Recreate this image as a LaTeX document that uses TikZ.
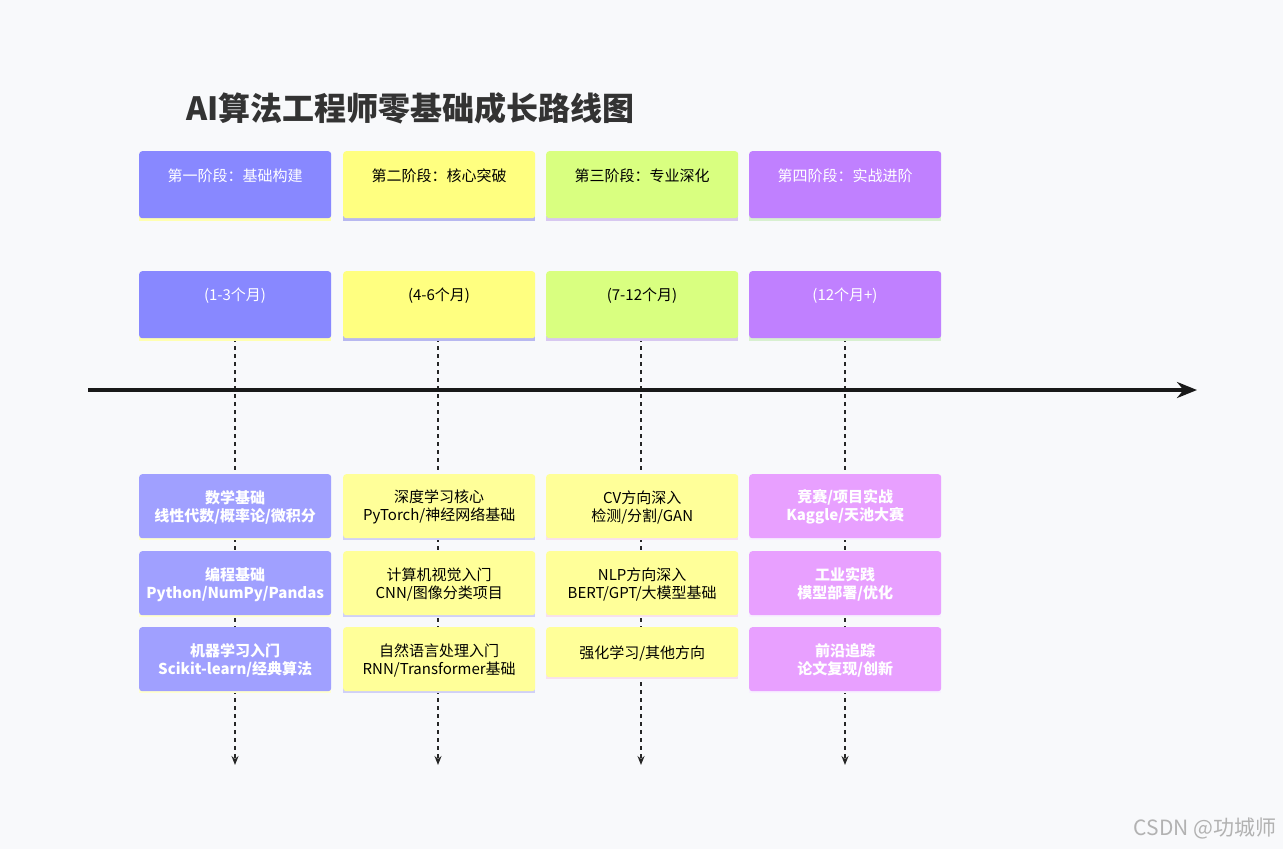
\documentclass[tikz,border=0pt]{standalone}
\usepackage{fontspec}
\setmainfont{Noto Sans CJK SC}
\usetikzlibrary{arrows.meta}
\definecolor{bg}{HTML}{F8F9FB}
\definecolor{cA}{HTML}{8888FF}\definecolor{cB}{HTML}{FFFF80}
\definecolor{cC}{HTML}{D9FF80}\definecolor{cD}{HTML}{C080FF}
\definecolor{iA}{HTML}{A0A0FF}\definecolor{iB}{HTML}{FFFF99}
\definecolor{iC}{HTML}{FFFF99}\definecolor{iD}{HTML}{E8A0FF}
\definecolor{sA}{HTML}{FFFFB0}\definecolor{sB}{HTML}{B8B8F0}
\definecolor{sC}{HTML}{D8C8F0}\definecolor{sD}{HTML}{D8F0D0}
\definecolor{siA}{HTML}{FFFFD0}\definecolor{siB}{HTML}{D0D0F8}
\definecolor{siC}{HTML}{F8E0F0}\definecolor{siD}{HTML}{F8F0FF}
\tikzset{
 hdr/.style={rounded corners=3pt,minimum width=192pt,minimum height=67pt,anchor=north west,inner sep=0pt},
 item/.style={rounded corners=3pt,minimum width=192pt,anchor=north west,inner sep=0pt},
 vline/.style={dashed,line width=1.4pt,dash pattern=on 4pt off 4pt,-{Stealth[length=9pt,width=7pt]},black!85},
 lbl/.style={align=center,font=\fontsize{15}{18}\selectfont},
 lblw/.style={align=center,text=white,font=\bfseries\fontsize{15}{18}\selectfont},
}
\newcommand{\stripe}[4]{\fill[#4] (#1,#2) rectangle ++(192,#3);}
\begin{document}
\begin{tikzpicture}[x=1pt,y=-1pt]
\fill[bg] (0,0) rectangle (1283,849);
\useasboundingbox (0,0) rectangle (1283,849);
\node[font=\fontsize{32}{36}\selectfont\bfseries,text=black!80,anchor=west] (title) at (183,108) {AI算法工程师零基础成长路线图};
\foreach \cx/\n in {235/a,438/b,641/c,845/d}{
 \coordinate (t\n) at (\cx,338); \coordinate (e\n) at (\cx,765);
 \draw[vline] (t\n) -- (e\n);}
\coordinate (ax0) at (88,390); \coordinate (ax1) at (1197,390);
\draw[line width=3.5pt,black!90,-{Stealth[length=20pt,width=16pt]}] (ax0) -- (ax1);
\foreach \x/\c/\s/\t/\tc/\n in {139/cA/sA/第一阶段：基础构建/white/1,343/cB/sB/第二阶段：核心突破/black/2,546/cC/sC/第三阶段：专业深化/black/3,749/cD/sD/第四阶段：实战进阶/white/4}{
 \stripe{\x}{216}{5}{\s}
 \node[hdr,fill=\c] (h\n) at (\x,151) {};
 \node[text=\tc,font=\fontsize{15}{18}\selectfont] (ht\n) at (\x+96,176) {\t};}
\foreach \x/\c/\s/\t/\tc/\n in {139/cA/sA/(1-3个月)/white/1,343/cB/sB/(4-6个月)/black/2,546/cC/sC/(7-12个月)/black/3,749/cD/sD/(12个月+)/white/4}{
 \stripe{\x}{336}{5}{\s}
 \node[hdr,fill=\c] (p\n) at (\x,271) {};
 \node[text=\tc,font=\fontsize{15}{18}\selectfont] (pt\n) at (\x+96,296) {\t};}
\newcommand{\itm}[6]{\fill[#6] (#1,#2+#3-3) rectangle ++(192,5);
 \node[item,fill=#5,minimum height=#3 pt] (#4) at (#1,#2) {};}
\itm{139}{474}{64}{a1}{iA}{siA}
\itm{139}{551}{64}{a2}{iA}{siA}
\itm{139}{627}{64}{a3}{iA}{siA}
\itm{343}{474}{64}{b1}{iB}{siB}
\itm{343}{551}{64}{b2}{iB}{siB}
\itm{343}{627}{64}{b3}{iB}{siB}
\itm{546}{474}{64}{c1}{iC}{siC}
\itm{546}{551}{64}{c2}{iC}{siC}
\itm{546}{627}{50}{c3}{iC}{siC}
\itm{749}{474}{64}{d1}{iD}{siD}
\itm{749}{551}{64}{d2}{iD}{siD}
\itm{749}{627}{64}{d3}{iD}{siD}
\node[lblw] at ([yshift=-1pt]a1) {数学基础\\线性代数/概率论/微积分};
\node[lblw] at ([yshift=-1pt]a2) {编程基础\\Python/NumPy/Pandas};
\node[lblw] at ([yshift=-1pt]a3) {机器学习入门\\Scikit-learn/经典算法};
\node[lbl] at ([yshift=-1pt]b1) {深度学习核心\\PyTorch/神经网络基础};
\node[lbl] at ([yshift=-1pt]b2) {计算机视觉入门\\CNN/图像分类项目};
\node[lbl] at ([yshift=-1pt]b3) {自然语言处理入门\\RNN/Transformer基础};
\node[lbl] at ([yshift=-1pt]c1) {CV方向深入\\检测/分割/GAN};
\node[lbl] at ([yshift=-1pt]c2) {NLP方向深入\\BERT/GPT/大模型基础};
\node[lbl] at ([yshift=-1pt]c3) {强化学习/其他方向};
\node[lblw] at ([yshift=-1pt]d1) {竞赛/项目实战\\Kaggle/天池大赛};
\node[lblw] at ([yshift=-1pt]d2) {工业实践\\模型部署/优化};
\node[lblw] at ([yshift=-1pt]d3) {前沿追踪\\论文复现/创新};
\node[anchor=east,text=black!30,font=\fontsize{21}{24}\selectfont] (wm) at (1280,828) {CSDN @功城师};
\end{tikzpicture}
\end{document}
